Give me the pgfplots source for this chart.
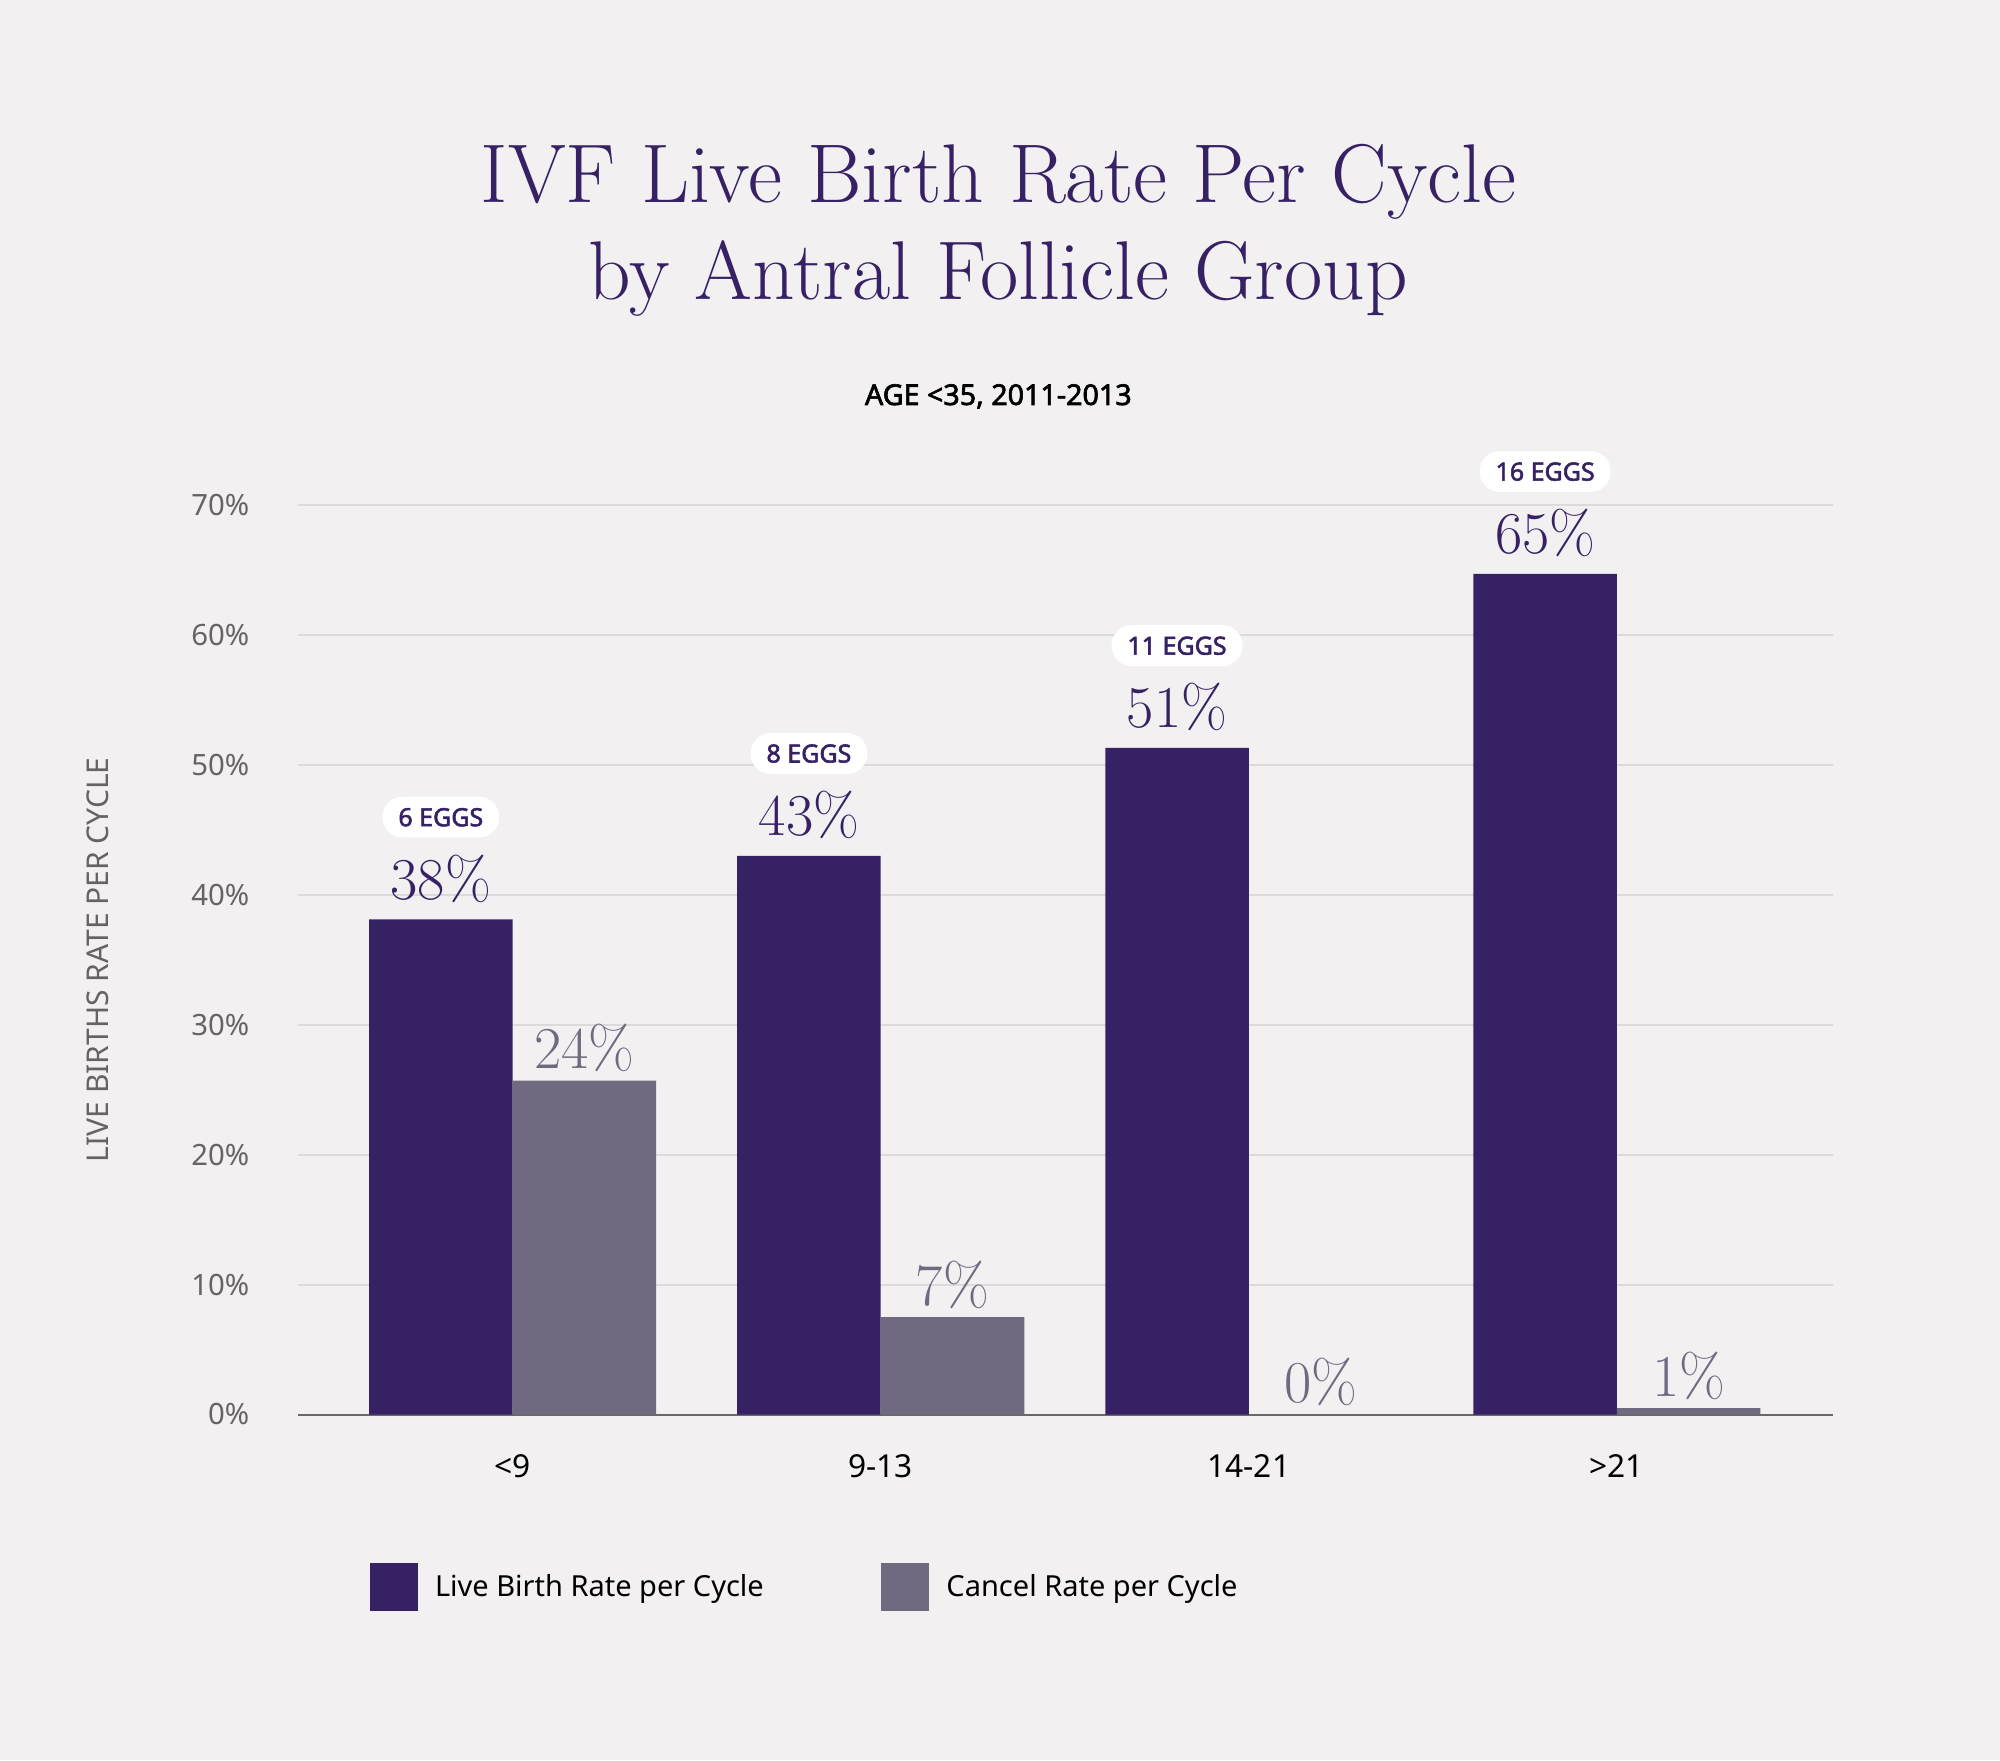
\documentclass[border=0pt]{standalone}
\usepackage{fontspec}
\usepackage{pgfplots}
\usepackage{pgfplotstable}
\pgfplotsset{compat=1.18}
\newfontfamily\sansf{Noto Sans}
\newfontfamily\sansb{Noto Sans}[FakeBold=2.2]
\definecolor{bg}{HTML}{F2F0F1}
\definecolor{purp}{HTML}{372165}
\definecolor{grayb}{HTML}{6F6A80}
\definecolor{gridc}{HTML}{DCDADB}
\definecolor{axisc}{HTML}{6B6869}
\definecolor{tickc}{HTML}{666366}

\pgfplotstableread[col sep=comma]{
xl,xc,live,cancel,livelab,cancellab,eggs
-0.195,0.195,38.1,25.7,38,24,6
0.805,1.195,43.0,7.5,43,7,8
1.805,2.195,51.3,0,51,0,11
2.805,3.195,64.7,0.5,65,1,16
}\datatable

\begin{document}
\begin{tikzpicture}
\path[fill=bg, use as bounding box] (0,0) rectangle (600pt,528pt);
\node[anchor=base, text=purp, inner sep=0pt, font=\fontsize{25}{30}\selectfont] at (299.5pt,467.1pt) {IVF Live Birth Rate Per Cycle};
\node[anchor=base, text=purp, inner sep=0pt, font=\fontsize{25}{30}\selectfont] at (299.5pt,438pt) {by Antral Follicle Group};
\node[anchor=base, inner sep=0pt, font=\sansb\fontsize{8.6}{10}\selectfont] at (299.5pt,406.5pt) {AGE <35, 2011-2013};
\begin{axis}[
  at={(89.4pt,103.65pt)}, anchor=south west,
  scale only axis, width=460.5pt, height=272.85pt,
  xmin=-0.583, xmax=3.587, ymin=0, ymax=70,
  clip=false,
  axis line style={draw=none},
  tick style={draw=none},
  ytick={0,10,20,30,40,50,60,70},
  yticklabels={0\%,10\%,20\%,30\%,40\%,50\%,60\%,70\%},
  xtick={0,1,2,3},
  xticklabels={<9,9-13,14-21,>21},
  ymajorgrids, grid style={gridc, line width=0.6pt},
  extra y ticks={0}, extra y tick labels={},
  extra y tick style={major grid style={axisc, line width=0.6pt}},
  yticklabel style={anchor=east, inner sep=0pt, xshift=-14.4pt, text=tickc, font=\sansf\fontsize{8.8}{10}\selectfont},
  xticklabel style={anchor=base, inner sep=0pt, yshift=-19pt, font=\sansf\fontsize{9.5}{11}\selectfont},
  ylabel={LIVE BIRTHS RATE PER CYCLE},
  ylabel style={at={(axis description cs:-0.1303,0.5)}, anchor=center, text=tickc, font=\sansf\fontsize{9}{10}\selectfont},
  legend columns=2, legend cell align=left,
  legend style={at={(axis description cs:0.0469,-0.1895)}, anchor=west, draw=none, fill=none, inner sep=0pt, outer sep=0pt,
    font=\sansf\fontsize{8.7}{10}\selectfont,
    /tikz/every even column/.append style={column sep=33.3pt},
    /tikz/every odd column/.append style={column sep=3.2pt}},
]
\addplot[ybar, bar width=0.39, bar shift=0, fill=purp, draw=none,
  legend image code/.code={\fill[purp] (0pt,-6.8pt) rectangle (14.3pt,7.5pt);},
  nodes near coords={\pgfplotspointmeta\%}, point meta=explicit symbolic,
  every node near coord/.append style={inner sep=0pt, text depth=0pt, yshift=5.8pt, text=purp, font=\fontsize{17.8}{20}\selectfont}]
  table[x=xl, y=live, meta=livelab] {\datatable};
\addlegendentry{Live Birth Rate per Cycle}
\addplot[ybar, bar width=0.39, bar shift=0, fill=grayb, draw=none,
  legend image code/.code={\fill[grayb] (0pt,-6.8pt) rectangle (14.3pt,7.5pt);},
  nodes near coords={\pgfplotspointmeta\%}, point meta=explicit symbolic,
  every node near coord/.append style={inner sep=0pt, text depth=0pt, yshift=3.3pt, text=grayb, font=\fontsize{17.8}{20}\selectfont}]
  table[x=xc, y=cancel, meta=cancellab] {\datatable};
\addlegendentry{Cancel Rate per Cycle}
\addplot[ybar, bar width=0.39, bar shift=0, fill=none, draw=none, forget plot,
  nodes near coords={\pgfplotspointmeta{} EGGS}, point meta=explicit symbolic,
  every node near coord/.append style={fill=white, rounded corners=6.1pt, inner xsep=4.8pt, inner ysep=0pt,
    minimum height=12.3pt, text depth=0pt, yshift=24.35pt, text=purp, font=\sansb\fontsize{7.5}{9}\selectfont}]
  table[x=xl, y=live, meta=eggs] {\datatable};
\end{axis}
\end{tikzpicture}
\end{document}
